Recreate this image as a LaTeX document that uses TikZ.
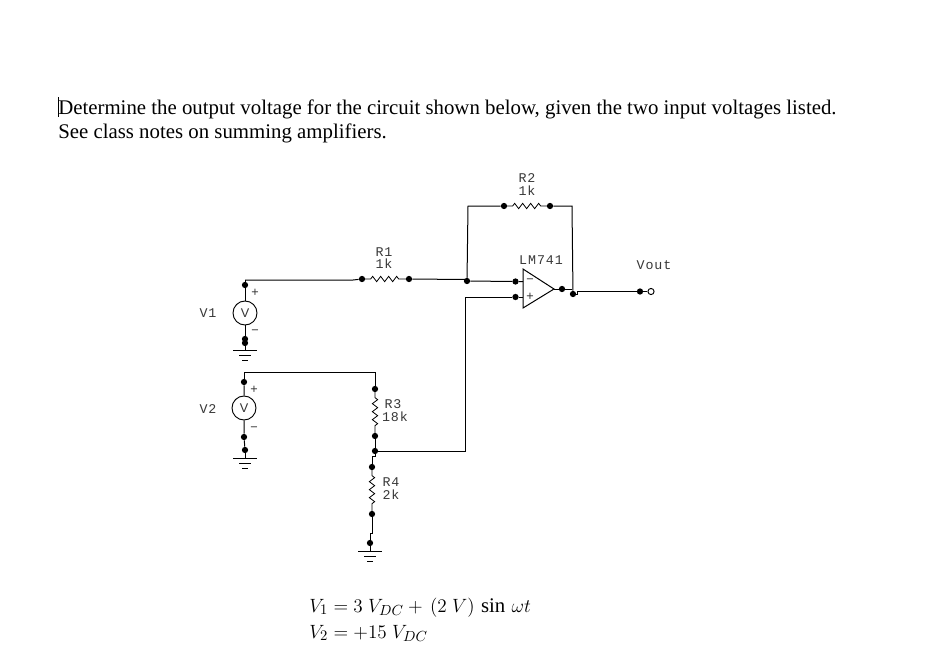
\documentclass[tikz,border=0pt]{standalone}
\usepackage{amsmath}
\usepackage{fontspec}
\setmainfont{Liberation Serif}
\newfontfamily\schemfont[LetterSpace=7]{Liberation Mono}
\newfontfamily\symfont{Liberation Sans}
\usetikzlibrary{decorations.pathmorphing,calc}
\tikzset{
  wire/.style={line width=0.75pt,line join=miter},
  pin/.style={circle,fill=black,inner sep=0pt,minimum size=4.7pt},
  openpin/.style={circle,draw=black,fill=white,line width=0.7pt,inner sep=0pt,minimum size=4.6pt},
  res/.style={line width=0.6pt,decorate,decoration={zigzag,segment length=6pt,amplitude=2pt,pre length=6.5pt,post length=6.5pt}},
  lab/.style={font=\schemfont\fontsize{10}{11}\selectfont,text=black!78,inner sep=0pt},
  sgn/.style={font=\symfont\fontsize{9.5}{10}\selectfont,text=black!80,inner sep=0pt},
  meter/.style={circle,draw=black,line width=0.7pt,fill=white,minimum size=18pt,inner sep=0pt,font=\symfont\fontsize{9.5}{10}\selectfont,text=black!80},
  para/.style={font=\fontsize{15.62}{18}\selectfont,anchor=base west,inner sep=0pt},
  eqn/.style={font=\fontsize{15.6}{18}\selectfont,anchor=base west,inner sep=0pt},
  gndw/.style={line width=0.75pt}
}
\newcommand{\gndsym}[2]{%
  \draw[gndw] ($(#1)+(-12,#2)$) -- ($(#1)+(12,#2)$);
  \draw[gndw] ($(#1)+(-6,#2+5.5)$) -- ($(#1)+(6,#2+5.5)$);
  \draw[gndw] ($(#1)+(-3,#2+10.5)$) -- ($(#1)+(3,#2+10.5)$);
}
\begin{document}
\begin{tikzpicture}[x=0.75pt,y=-0.75pt]
\useasboundingbox (0,0) rectangle (936,665);

% text
\draw[line width=0.6pt] (58.5,97) -- (58.5,117);
\node[para] (t1) at (58,114) {Determine the output voltage for the circuit shown below, given the two input voltages listed.};
\node[para] (t2) at (58,138) {See class notes on summing amplifiers.};
\node[eqn] (e1) at (309,612) {$V_1 = 3\;V_{DC} +\, (2\;V)\,\sin\,\omega t$};
\node[eqn] (e2) at (309,638) {$V_2 = +15\;V_{DC}$};

% V1 source
\node[pin] (v1t) at (245,285) {};
\node[meter] (v1) at (245,313) {V};
\node[pin] (v1b) at (245,339) {};
\node[pin] (v1c) at (245,343) {};
\coordinate (v1w) at (245,280);
% R1
\node[pin] (r1a) at (362,279) {};
\node[pin] (r1b) at (409,279) {};
\coordinate (r1w) at (353,280);
\node[pin] (jn) at (467,281) {};
% R2
\coordinate (r2l) at (468,206);
\node[pin] (r2a) at (504,206) {};
\node[pin] (r2b) at (550,206) {};
\coordinate (r2r) at (572,206);
% op amp
\coordinate (oa1) at (523,269);
\coordinate (oa2) at (523,308);
\coordinate (oa3) at (554,289);
\node[pin] (inm) at (515.5,281.5) {};
\node[pin] (inp) at (515.5,297) {};
\coordinate (oam) at (523,281.5);
\coordinate (oap) at (523,297);
\node[pin] (outa) at (562,289) {};
\node[pin] (outb) at (573,294) {};
\coordinate (outc) at (577,291.5);
\node[pin] (vo) at (640,291.5) {};
\node[openpin] (voo) at (651,291.5) {};
% V2 source
\node[pin] (v2t) at (244,382) {};
\node[meter] (v2) at (244,408) {V};
\node[pin] (v2b) at (244,437) {};
\node[pin] (v2c) at (245,450) {};
\coordinate (v2w) at (244,372);
% R3, R4
\node[pin] (r3a) at (375,389) {};
\node[pin] (r3b) at (375,436) {};
\node[pin] (jr) at (375,451) {};
\node[pin] (r4a) at (372,467) {};
\node[pin] (r4b) at (372,514) {};
\node[pin] (g3) at (370,543) {};
\coordinate (pw) at (465,297);

% wires
\draw[wire] (v1w) -- (r1w) -- (r1a);
\draw[wire] (v1w) -- (v1t) -- (v1) -- (v1b) -- (v1c);
\draw[res] (r1a.center) -- (r1b.center);
\draw[wire] (r1b) -- (467,279.5) -- (jn);
\draw[wire] (jn) -- (inm) -- (oam);
\draw[wire] (jn) -- (r2l) -- (r2a);
\draw[res] (r2a.center) -- (r2b.center);
\draw[wire] (r2b) -- (r2r) -- (outb);
\draw[wire] (oa1) -- (oa2) -- (oa3) -- cycle;
\draw[wire] (oa3) -- (outa) -- (572,289);
\draw[wire] (outb) -- (577,294) -- (outc) -- (vo) -- (voo);
\draw[wire] (oap) -- (inp) -- (pw) -- (465,451) -- (jr);
\draw[wire] (v2t) -- (v2w) -- (375,372) -- (r3a);
\draw[wire] (v2t) -- (v2) -- (v2b) -- (v2c);
\draw[res] (r3a.center) -- (r3b.center);
\draw[wire] (r3b) -- (jr) -- (375,456) -- (372,456) -- (r4a);
\draw[res] (r4a.center) -- (r4b.center);
\draw[wire] (r4b) -- (372,533) -- (370,533) -- (g3);

% grounds
\gndsym{245,341}{9}
\gndsym{245,450}{8}
\gndsym{370,543}{8}
\draw[wire] (v1c) -- ++(0,7);
\draw[wire] (v2c) -- ++(0,8);
\draw[wire] (g3) -- ++(0,8);

% labels
\node[lab] (lr2a) at (527,178) {R2};
\node[lab] (lr2b) at (527,191) {1k};
\node[lab] (lr1a) at (384,252) {R1};
\node[lab] (lr1b) at (384,264) {1k};
\node[lab] (llm) at (541,260) {LM741};
\node[lab] (lvo) at (654,265) {Vout};
\node[lab] (lv1) at (208,313) {V1};
\node[lab] (lv2) at (208,409) {V2};
\node[lab] (lr3a) at (393,404) {R3};
\node[lab] (lr3b) at (395,417) {18k};
\node[lab] (lr4a) at (391,482) {R4};
\node[lab] (lr4b) at (391,495) {2k};
\node[sgn] (s1) at (255,293) {+};
\node[sgn] (s2) at (255,332) {−};
\node[sgn] (s3) at (254,390) {+};
\node[sgn] (s4) at (254,429) {−};
\node[sgn] (s5) at (530,281.5) {−};
\node[sgn] (s6) at (530,297) {+};
\end{tikzpicture}
\end{document}
